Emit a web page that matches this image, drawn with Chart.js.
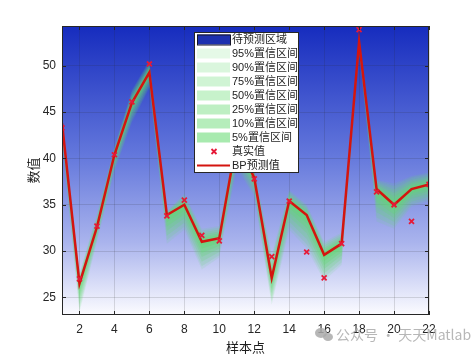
<!DOCTYPE html>
<html>
<head>
<meta charset="utf-8">
<script src="https://cdn.jsdelivr.net/npm/chart.js@4/dist/chart.umd.min.js"></script>
<style>
  html, body { margin: 0; padding: 0; background: #fff; }
</style>
</head>
<body>
<canvas id="chart" width="474" height="355"></canvas>
<script>
// 样本点与数值
const samples = [1, 2, 3, 4, 5, 6, 7, 8, 9, 10, 11, 12, 13, 14, 15, 16, 17, 18, 19, 20, 21, 22];
const predicted = [43.8, 26.5, 32.6, 40.4, 46.0, 49.3, 33.9, 35.0, 31.0, 31.4, 42.0, 37.9, 27.1, 35.4, 33.9, 29.6, 30.8, 52.6, 36.7, 35.0, 36.7, 37.2];
const actual = [43.3, 27.0, 32.7, 40.4, 46.1, 50.2, 33.8, 35.5, 31.7, 31.1, 41.2, 37.8, 29.4, 35.4, 29.9, 27.1, 30.8, 53.9, 36.4, 35.0, 33.2, 37.2];
// 95%区间上下界
const upper95 = [44.3, 27.6, 34.0, 41.3, 47.4, 50.6, 34.3, 36.2, 32.4, 32.7, 42.8, 38.8, 29.6, 36.6, 35.0, 31.0, 32.0, 53.4, 37.7, 37.3, 38.1, 38.5];
const lower95 = [41.6, 23.4, 31.0, 38.6, 43.9, 47.6, 30.8, 32.3, 28.0, 29.3, 39.0, 35.9, 24.2, 32.3, 30.3, 26.8, 28.5, 51.4, 33.2, 32.4, 34.8, 35.4];
// 各置信水平
const levelNames = ['95%置信区间', '90%置信区间', '75%置信区间', '50%置信区间', '25%置信区间', '10%置信区间', '5%置信区间'];
const levelScale = [1, 0.88, 0.72, 0.55, 0.4, 0.25, 0.12];
const levelAlpha = [0.12, 0.16, 0.2, 0.24, 0.28, 0.32, 0.38];
const legendAlpha = [0.17, 0.24, 0.3, 0.36, 0.42, 0.48, 0.56];
const xTicks = [2, 4, 6, 8, 10, 12, 14, 16, 18, 20, 22];
const yTicks = [25, 30, 35, 40, 45, 50];

const FONT = '"Liberation Sans", "Noto Sans CJK SC", sans-serif';
const CJK = '"Noto Sans CJK SC", sans-serif';
const bandColor = a => `rgba(100,218,112,${a})`;

const datasets = [
  {
    label: '真实值',
    data: samples.map((x, i) => ({ x, y: actual[i] })),
    showLine: false,
    pointStyle: 'crossRot',
    pointRadius: 3.5,
    borderColor: 'rgb(230,25,55)',
    borderWidth: 1.8,
    fill: false
  },
  {
    label: 'BP预测值',
    data: samples.map((x, i) => ({ x, y: predicted[i] })),
    borderColor: 'rgb(212,20,15)',
    borderWidth: 2.5,
    pointRadius: 0,
    tension: 0,
    fill: false
  }
];

levelNames.forEach((name, k) => {
  const lo = samples.map((x, i) => ({ x, y: predicted[i] - levelScale[k] * (predicted[i] - lower95[i]) }));
  const hi = samples.map((x, i) => ({ x, y: predicted[i] + levelScale[k] * (upper95[i] - predicted[i]) }));
  const loIndex = datasets.length;
  datasets.push({ label: name + '-lo', data: lo, pointRadius: 0, borderWidth: 0, fill: false });
  datasets.push({ label: name, data: hi, pointRadius: 0, borderWidth: 0, backgroundColor: bandColor(levelAlpha[k]), fill: loIndex });
});

// 待预测区域 渐变背景
const backdrop = {
  id: 'backdrop',
  beforeDraw(chart) {
    const { ctx, chartArea: { left, top, right, bottom } } = chart;
    const g = ctx.createLinearGradient(0, top, 0, bottom);
    g.addColorStop(0, 'rgb(22,44,190)');
    g.addColorStop(0.45, 'rgb(100,120,220)');
    g.addColorStop(0.75, 'rgb(170,180,237)');
    g.addColorStop(1, 'rgb(252,252,255)');
    ctx.save();
    ctx.fillStyle = g;
    ctx.fillRect(left, top, right - left, bottom - top);
    ctx.restore();
  }
};

// 坐标框、刻度、图例、水印
const frame = {
  id: 'frame',
  afterDraw(chart) {
    const { ctx, chartArea: { left, top, right, bottom } } = chart;
    const xs = chart.scales.x, ys = chart.scales.y;
    ctx.save();
    ctx.strokeStyle = 'rgb(38,38,38)';
    ctx.lineWidth = 1;
    ctx.strokeRect(left + 0.5, top + 0.5, right - left - 1, bottom - top - 1);
    ctx.beginPath();
    xTicks.forEach(v => {
      const px = Math.round(xs.getPixelForValue(v)) + 0.5;
      ctx.moveTo(px, bottom); ctx.lineTo(px, bottom - 4);
      ctx.moveTo(px, top); ctx.lineTo(px, top + 4);
    });
    yTicks.forEach(v => {
      const py = Math.round(ys.getPixelForValue(v)) + 0.5;
      ctx.moveTo(left, py); ctx.lineTo(left + 4, py);
      ctx.moveTo(right, py); ctx.lineTo(right - 4, py);
    });
    ctx.stroke();

    // 图例
    const bx = 194, by = 32, bw = 104, bh = 140;
    ctx.fillStyle = '#fff';
    ctx.fillRect(bx, by, bw, bh);
    ctx.strokeStyle = 'rgb(38,38,38)';
    ctx.strokeRect(bx + 0.5, by + 0.5, bw, bh);
    const rowY = i => 39.5 + i * 14;
    const textX = 232;
    ctx.font = '11px ' + FONT;
    ctx.textBaseline = 'middle';
    ctx.textAlign = 'left';
    // 待预测区域
    ctx.fillStyle = 'rgb(28,48,175)';
    ctx.fillRect(197, rowY(0) - 5, 33, 10);
    ctx.strokeStyle = 'rgb(20,20,40)';
    ctx.strokeRect(197.5, rowY(0) - 4.5, 33, 10);
    ctx.fillStyle = 'rgb(30,30,30)';
    ctx.fillText('待预测区域', textX, rowY(0));
    levelNames.forEach((name, k) => {
      const y = rowY(k + 1);
      ctx.fillStyle = bandColor(legendAlpha[k]);
      ctx.fillRect(197, y - 5, 33, 10);
      ctx.fillStyle = 'rgb(30,30,30)';
      ctx.fillText(name, textX, y);
    });
    // 真实值
    let y = rowY(8);
    ctx.strokeStyle = 'rgb(230,25,55)';
    ctx.lineWidth = 1.8;
    ctx.beginPath();
    ctx.moveTo(211.5, y - 2.5); ctx.lineTo(216.5, y + 2.5);
    ctx.moveTo(216.5, y - 2.5); ctx.lineTo(211.5, y + 2.5);
    ctx.stroke();
    ctx.fillStyle = 'rgb(30,30,30)';
    ctx.fillText('真实值', textX, y);
    // BP预测值
    y = rowY(9);
    ctx.strokeStyle = 'rgb(212,20,15)';
    ctx.lineWidth = 2;
    ctx.beginPath();
    ctx.moveTo(197, y); ctx.lineTo(230, y);
    ctx.stroke();
    ctx.fillText('BP预测值', textX, y);

    // 水印
    ctx.fillStyle = 'rgba(170,170,170,0.85)';
    ctx.beginPath();
    ctx.ellipse(321, 333, 6, 5, 0, 0, Math.PI * 2);
    ctx.fill();
    ctx.beginPath();
    ctx.ellipse(328, 337, 5, 4, 0, 0, Math.PI * 2);
    ctx.fill();
    ctx.font = '14px ' + CJK;
    ctx.fillText('公众号 · 天天Matlab', 336, 335);
    ctx.restore();
  }
};

new Chart(document.getElementById('chart'), {
  type: 'line',
  data: { datasets },
  plugins: [backdrop, frame],
  options: {
    responsive: false,
    animation: false,
    devicePixelRatio: 1,
    layout: { padding: { left: 0, right: 45, top: 26, bottom: 0 } },
    plugins: { legend: { display: false }, tooltip: { enabled: false } },
    scales: {
      x: {
        type: 'linear',
        min: 1,
        max: 22,
        afterBuildTicks: s => { s.ticks = xTicks.map(v => ({ value: v })); },
        afterFit: s => { s.height = 40; },
        grid: { color: 'rgba(38,38,38,0.15)', drawTicks: false },
        border: { display: false },
        ticks: { padding: 7, color: 'rgb(38,38,38)', font: { family: FONT, size: 12 }, maxRotation: 0 },
        title: { display: true, text: '样本点', color: 'rgb(30,30,30)', font: { family: CJK, size: 13 }, padding: { top: 1, bottom: 0 } }
      },
      y: {
        type: 'linear',
        min: 23.1,
        max: 54.3,
        afterBuildTicks: s => { s.ticks = yTicks.map(v => ({ value: v })); },
        afterFit: s => { s.width = 62; },
        grid: { color: 'rgba(38,38,38,0.15)', drawTicks: false },
        border: { display: false },
        ticks: { padding: 6, color: 'rgb(38,38,38)', font: { family: FONT, size: 12 } },
        title: { display: true, text: '数值', color: 'rgb(30,30,30)', font: { family: CJK, size: 13 }, padding: { top: 25, bottom: 0 } }
      }
    }
  }
});
</script>
</body>
</html>
